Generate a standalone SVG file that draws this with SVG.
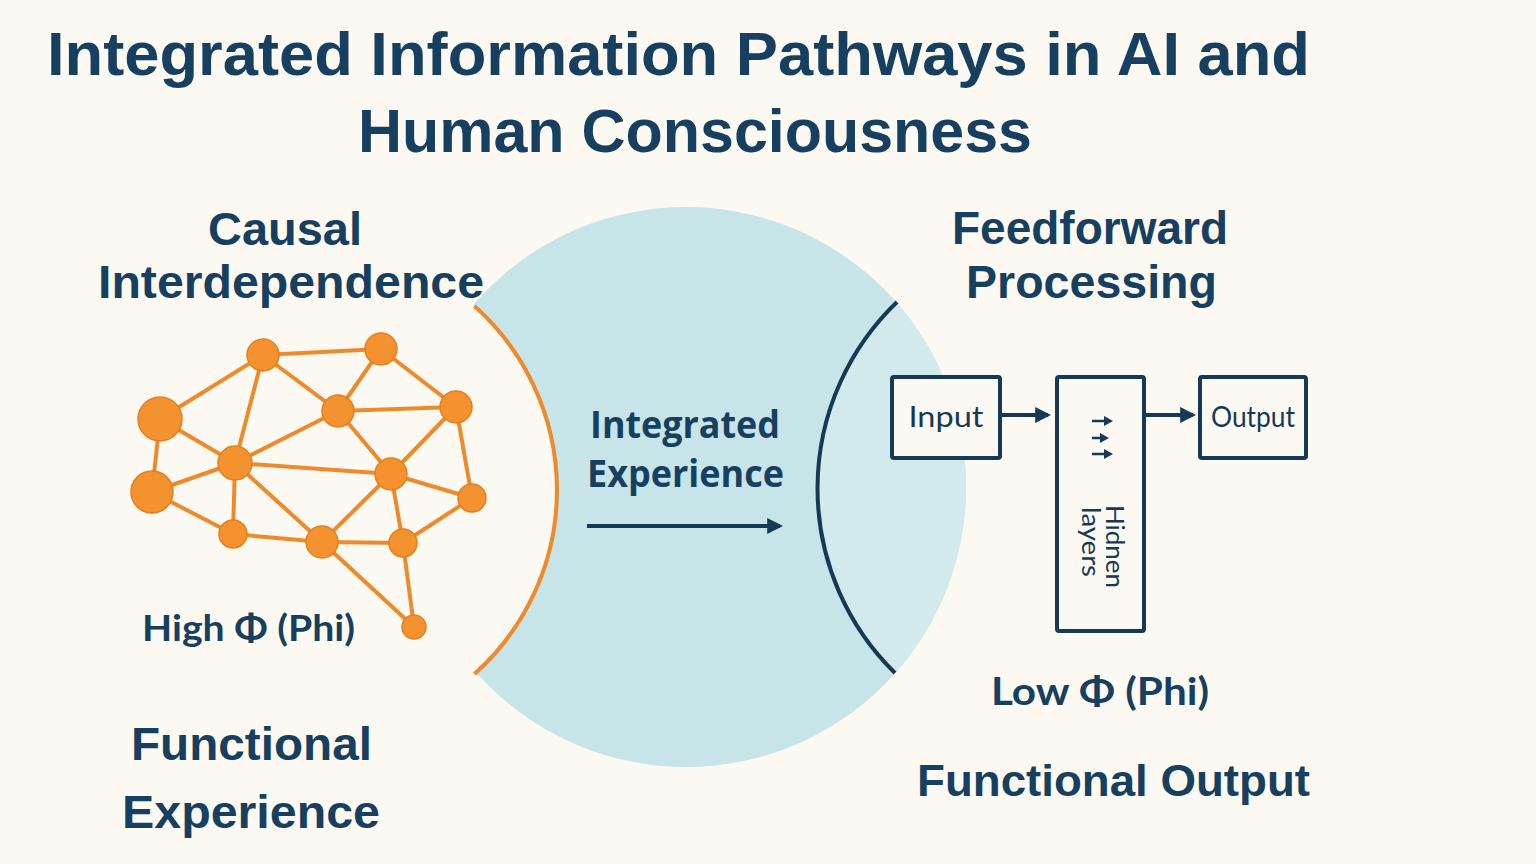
<svg xmlns="http://www.w3.org/2000/svg" width="1536" height="864" viewBox="0 0 1536 864">
<defs>
<style>
.t{font-family:"Liberation Sans",Arial,sans-serif;font-weight:bold;fill:#173f5f}
.m{font-family:"Liberation Sans",Arial,sans-serif;font-weight:bold;fill:#173f5f}
.ie{font-family:"Open Sans","Liberation Sans",sans-serif;font-weight:bold;fill:#173f5f}
.phi{font-family:"Lato","Liberation Sans",sans-serif;font-weight:bold;fill:#173f5f}
.box{fill:#fcf9f2;stroke:#163a56;stroke-width:4}
.bt{font-family:"Lato","Liberation Sans",sans-serif;font-weight:normal;fill:#163a56}
.edge{stroke:#ef8a2a;stroke-width:4;stroke-linecap:round}
.node{fill:#f4922f;stroke:#e3801f;stroke-width:1.5}
.nav{stroke:#163a56;stroke-width:4;fill:none}
.sm{stroke:#163a56;stroke-width:2.5}
.smh{fill:#163a56}
</style>
<marker id="ah" viewBox="0 0 10 10" refX="8" refY="5" markerWidth="4" markerHeight="4.4" orient="auto" markerUnits="strokeWidth">
<path d="M0,0 L10,5 L0,10 z" fill="#163a56"/>
</marker>
<clipPath id="bigc"><circle cx="686" cy="487" r="280"/></clipPath>
</defs>
<rect width="1536" height="864" fill="#fcf9f2"/>

<g id="title">
<text class="t" x="47" y="75" font-size="62" textLength="1263" lengthAdjust="spacingAndGlyphs">Integrated Information Pathways in AI and</text>
<text class="t" x="358" y="152" font-size="62" textLength="674" lengthAdjust="spacingAndGlyphs">Human Consciousness</text>
</g>

<g id="integrated-experience">
<circle cx="686" cy="487" r="280" fill="#c7e4e8"/>
<circle cx="1076.5" cy="488" r="258.5" fill="#d3eaed" clip-path="url(#bigc)"/>
<circle cx="310.7" cy="490" r="246.3" fill="#fcf9f2"/>
<path d="M474.4 306 A246.3 246.3 0 0 1 474.4 674" fill="none" stroke="#ef8a2a" stroke-width="4"/>
<path d="M897 302 A258.5 258.5 0 0 0 895 673" class="nav"/>
<text class="ie" x="590" y="438" font-size="38" textLength="190" lengthAdjust="spacingAndGlyphs">Integrated</text>
<text class="ie" x="587" y="487" font-size="38" textLength="197" lengthAdjust="spacingAndGlyphs">Experience</text>
</g>

<g id="connectors">
<line x1="587" y1="526" x2="780" y2="526" class="nav" marker-end="url(#ah)"/>
<line x1="1001" y1="415" x2="1048" y2="415" class="nav" marker-end="url(#ah)"/>
<line x1="1145" y1="415" x2="1193" y2="415" class="nav" marker-end="url(#ah)"/>
</g>

<g id="causal-interdependence">
<text class="m" x="208" y="245" font-size="46" textLength="154" lengthAdjust="spacingAndGlyphs">Causal</text>
<text class="m" x="98" y="298" font-size="46" textLength="386" lengthAdjust="spacingAndGlyphs">Interdependence</text>
<g id="network">
<line class="edge" x1="263" y1="355" x2="381" y2="349"/>
<line class="edge" x1="263" y1="355" x2="160" y2="419"/>
<line class="edge" x1="263" y1="355" x2="235" y2="463"/>
<line class="edge" x1="263" y1="355" x2="338" y2="411"/>
<line class="edge" x1="381" y1="349" x2="338" y2="411"/>
<line class="edge" x1="381" y1="349" x2="456" y2="407"/>
<line class="edge" x1="338" y1="411" x2="456" y2="407"/>
<line class="edge" x1="160" y1="419" x2="235" y2="463"/>
<line class="edge" x1="160" y1="419" x2="152" y2="492"/>
<line class="edge" x1="235" y1="463" x2="338" y2="411"/>
<line class="edge" x1="235" y1="463" x2="391" y2="474"/>
<line class="edge" x1="235" y1="463" x2="152" y2="492"/>
<line class="edge" x1="235" y1="463" x2="233" y2="534"/>
<line class="edge" x1="235" y1="463" x2="322" y2="542"/>
<line class="edge" x1="338" y1="411" x2="391" y2="474"/>
<line class="edge" x1="456" y1="407" x2="391" y2="474"/>
<line class="edge" x1="456" y1="407" x2="472" y2="498"/>
<line class="edge" x1="391" y1="474" x2="472" y2="498"/>
<line class="edge" x1="391" y1="474" x2="322" y2="542"/>
<line class="edge" x1="391" y1="474" x2="403" y2="543"/>
<line class="edge" x1="152" y1="492" x2="233" y2="534"/>
<line class="edge" x1="233" y1="534" x2="322" y2="542"/>
<line class="edge" x1="322" y1="542" x2="403" y2="543"/>
<line class="edge" x1="403" y1="543" x2="472" y2="498"/>
<line class="edge" x1="322" y1="542" x2="414" y2="627"/>
<line class="edge" x1="403" y1="543" x2="414" y2="627"/>
<circle class="node" cx="263" cy="355" r="16"/>
<circle class="node" cx="381" cy="349" r="16"/>
<circle class="node" cx="160" cy="419" r="22"/>
<circle class="node" cx="338" cy="411" r="16"/>
<circle class="node" cx="456" cy="407" r="16"/>
<circle class="node" cx="235" cy="463" r="17"/>
<circle class="node" cx="152" cy="492" r="21"/>
<circle class="node" cx="391" cy="474" r="16"/>
<circle class="node" cx="472" cy="498" r="14"/>
<circle class="node" cx="233" cy="534" r="14"/>
<circle class="node" cx="322" cy="542" r="16"/>
<circle class="node" cx="403" cy="543" r="14"/>
<circle class="node" cx="414" cy="627" r="12"/>
</g>
<text class="phi" x="142" y="641" font-size="36" textLength="213" lengthAdjust="spacingAndGlyphs">High Φ (Phi)</text>
</g>

<g id="functional-experience">
<text class="m" x="131" y="760" font-size="46" textLength="241" lengthAdjust="spacingAndGlyphs">Functional</text>
<text class="m" x="122" y="828" font-size="46" textLength="258" lengthAdjust="spacingAndGlyphs">Experience</text>
</g>

<g id="feedforward-processing">
<text class="m" x="952" y="244" font-size="46" textLength="276" lengthAdjust="spacingAndGlyphs">Feedforward</text>
<text class="m" x="966" y="298" font-size="46" textLength="251" lengthAdjust="spacingAndGlyphs">Processing</text>
</g>

<g id="input">
<rect class="box" x="892" y="377" width="108" height="81" rx="2"/>
<text class="bt" x="946" y="427" font-size="29" text-anchor="middle" textLength="75" lengthAdjust="spacingAndGlyphs">Input</text>
</g>

<g id="hidden-layers">
<rect class="box" x="1057" y="377" width="87" height="254" rx="2"/>
<line class="sm" x1="1092" y1="421" x2="1106" y2="421"/>
<path class="smh" d="M1104 416 L1113 421 L1104 426 z"/>
<line class="sm" x1="1092" y1="438" x2="1102" y2="438"/>
<path class="smh" d="M1100 433 L1109 438 L1100 443 z"/>
<line class="sm" x1="1092" y1="454" x2="1106" y2="454"/>
<path class="smh" d="M1104 449 L1113 454 L1104 459 z"/>
<text class="bt" font-size="25" transform="translate(1106,505) rotate(90)" textLength="83" lengthAdjust="spacingAndGlyphs">Hidnen</text>
<text class="bt" font-size="25" transform="translate(1082,507) rotate(90)" textLength="70" lengthAdjust="spacingAndGlyphs">layers</text>
</g>

<g id="output">
<rect class="box" x="1200" y="377" width="106" height="81" rx="2"/>
<text class="bt" x="1253" y="427" font-size="29" text-anchor="middle" textLength="84" lengthAdjust="spacingAndGlyphs">Output</text>
</g>

<g id="low-phi">
<text class="phi" x="991" y="705" font-size="38" textLength="218" lengthAdjust="spacingAndGlyphs">Low Φ (Phi)</text>
<text class="m" x="917" y="796" font-size="45" textLength="393" lengthAdjust="spacingAndGlyphs">Functional Output</text>
</g>
</svg>
